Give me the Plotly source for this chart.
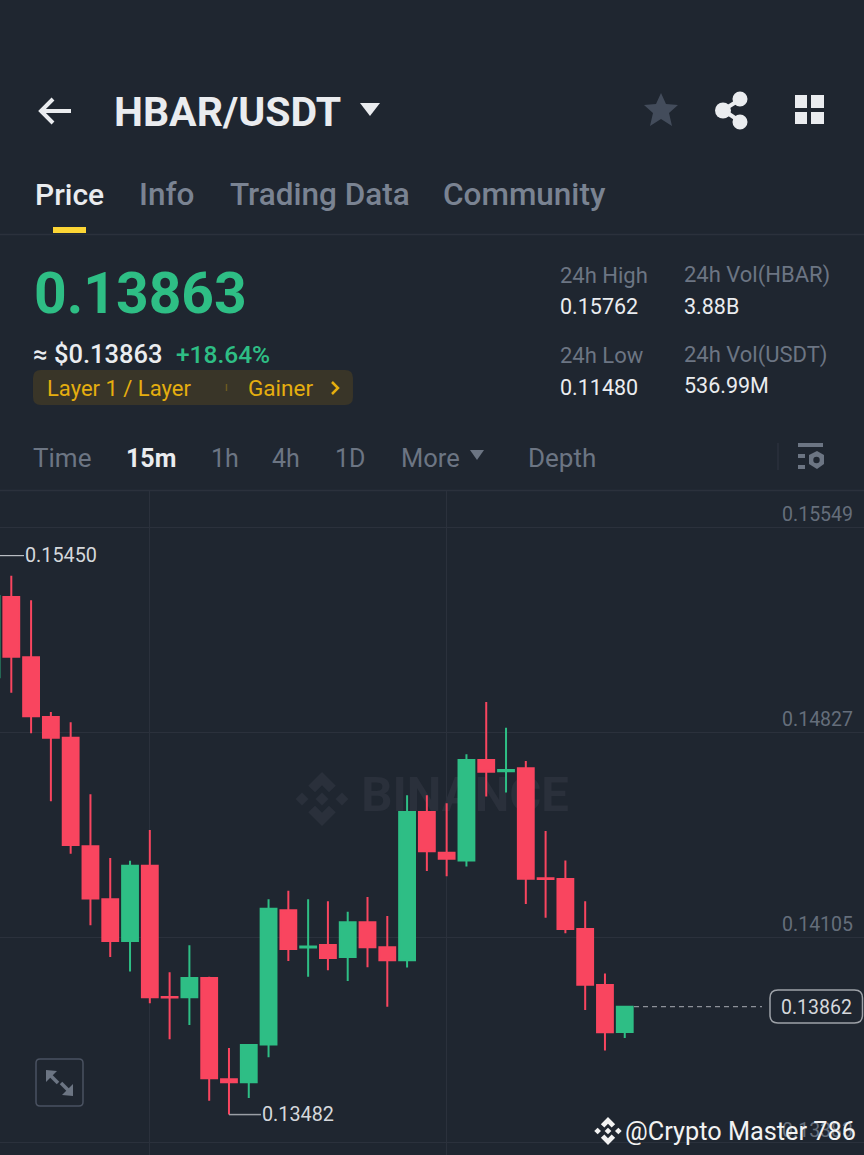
import plotly.graph_objects as go

# ---- data ----
opens  = [.15022,.15304,.15092,.14882,.14809,.14427,.14240,.14093,.14358,.13896,.13895,.13963,.13606,.13596,.13729,.14201,.14070,.14079,.14037,.14159,.14071,.14025,.14547,.14404,.14377,.14730,.14691,.14701,.14314,.14311,.14135,.13938,.13773]
highs  = [.15329,.15379,.15293,.14899,.14863,.14610,.14385,.14376,.14484,.13983,.14078,.13967,.13716,.13730,.14240,.14270,.14240,.14233,.14196,.14248,.14181,.14606,.14606,.14578,.14751,.14935,.14844,.14727,.14480,.14377,.14233,.13979,.13864]
lows   = [.15012,.14967,.14825,.14585,.14400,.14149,.14037,.13986,.13874,.13747,.13797,.13531,.13482,.13540,.13684,.14023,.13967,.13990,.13952,.14001,.13862,.14000,.14340,.14321,.14355,.14602,.14616,.14223,.14175,.14120,.13850,.13708,.13752]
closes = [.15308,.15094,.14884,.14809,.14431,.14243,.14093,.14358,.13895,.13894,.13963,.13610,.13596,.13727,.14207,.14065,.14074,.14033,.14159,.14071,.14025,.14547,.14409,.14383,.14730,.14689,.14695,.14312,.14311,.14135,.13939,.13772,.13862]
candle_index = list(range(len(opens)))

price_ticks = [.15549,.14827,.14105,.13383]
price_tick_labels = ["0.15549","0.14827","0.14105","0.13383"]
time_grid_index = [8,23]
period_high, period_low, last_price = .15450, .13482, .13862

BG="#1F2630"; GRID="#2B313C"; RED="#F9455F"; GREEN="#2EBE85"; GREY="#7A8392"; DIM="#6C7583"; WHITE="#EAECEF"
FONT="Roboto"
W,H=864,1155

# axis mapping of the pane
X_RANGE=[0.429,44.09]
Y_RANGE=[.133397,.15681]
PANE_TOP=490

def px(x): return x/W
def py(y): return 1-y/H
def path(pts, close=True):
    return "M"+" L".join(f"{px(x):.5f},{py(y):.5f}" for x,y in pts)+(" Z" if close else "")
def rrect(x0,y0,x1,y1,r):
    P=lambda a,b:f"{px(a):.5f},{py(b):.5f}"
    return (f"M{P(x0+r,y0)} L{P(x1-r,y0)} Q{P(x1,y0)} {P(x1,y0+r)} L{P(x1,y1-r)} Q{P(x1,y1)} {P(x1-r,y1)} "
            f"L{P(x0+r,y1)} Q{P(x0,y1)} {P(x0,y1-r)} L{P(x0,y0+r)} Q{P(x0,y0)} {P(x0+r,y0)} Z")

shapes=[]
def S(d,fill=None,line=None,lw=0,layer="above"):
    shapes.append(dict(type="path",path=d,xref="paper",yref="paper",layer=layer,
        fillcolor=fill if fill else "rgba(0,0,0,0)",line=dict(color=line if line else "rgba(0,0,0,0)",width=lw)))
def L(x0,y0,x1,y1,c,w=1.5,layer="above"):
    S(path([(x0,y0),(x1,y1)],False),None,c,w,layer)
def circle(cx,cy,r,fill):
    shapes.append(dict(type="circle",xref="paper",yref="paper",x0=px(cx-r),x1=px(cx+r),y0=py(cy+r),y1=py(cy-r),
                       fillcolor=fill,line=dict(width=0)))
def logo(cx,cy,r,c,layer):
    def pts(lst): return [(cx+a*r,cy+b*r) for a,b in lst]
    d=.24
    for ox,oy in [(0,0),(-.74,0),(.74,0)]:
        S(path(pts([(ox,oy-d),(ox+d,oy),(ox,oy+d),(ox-d,oy)])),c,None,0,layer)
    top=[(0,-1),(.51,-.49),(.26,-.25),(0,-.51),(-.26,-.25),(-.51,-.49)]
    S(path(pts(top)),c,None,0,layer)
    S(path(pts([(a,-b) for a,b in top])),c,None,0,layer)

anns=[]
def T(x,y,text,size,color,anchor="left",weight=400,font=FONT):
    anns.append(dict(x=px(x),y=py(y),xref="paper",yref="paper",text=text,showarrow=False,xanchor=anchor,yanchor="middle",
                     font=dict(family=font,size=size,color=color,weight=weight),borderpad=0,borderwidth=0))

# header
L(41,111,71,111,WHITE,4)
S(path([(53,99),(41,111),(53,123)],False),None,WHITE,4)
T(114,112,"HBAR/USDT",41,WHITE,weight=700)
S(path([(360,103),(380,103),(370,116)]),WHITE)
S(path([(661,93),(666,104),(678,105),(669,113),(672,126),(661,119),(650,126),(653,113),(644,105),(656,104)]),"#434C5B")
L(741,99,723,110,WHITE,4); L(741,122,723,110,WHITE,4)
circle(740,99,7.5,WHITE); circle(740,122,7.5,WHITE); circle(723,110.5,8,WHITE)
for a,b in [(795,807),(811,824)]:
    for c,d in [(95,108),(112,124)]:
        S(path([(a,c),(b,c),(b,d),(a,d)]),WHITE)
# tabs
T(35,194,"Price",30,WHITE,weight=500)
T(139,194,"Info",31.5,GREY,weight=500)
T(230,194,"Trading Data",31.5,GREY,weight=500)
T(443,194,"Community",31.5,GREY,weight=500)
S(path([(53,227),(86,227),(86,233),(53,233)]),"#FCD535")
L(0,234.5,864,234.5,GRID,1.5)
# price block
T(34,294,"0.13863",57,GREEN,weight=700)
T(33,354,"≈ $0.13863",25.5,WHITE,weight=500)
T(176,354,"+18.64%",24.5,GREEN,weight=500)
S(rrect(33,370,353,405,8),"#393528")
T(47,388,"Layer 1 / Layer",22,"#E5AE0F")
L(226.5,384,226.5,391,"#6B5A20",1.5)
T(248,388,"Gainer",22.5,"#E5AE0F")
S(path([(332,382),(338,388),(332,394)],False),None,"#E5AE0F",2.5)
T(560,276,"24h High",22,DIM); T(560,306,"0.15762",21.5,WHITE)
T(684,275,"24h Vol(HBAR)",22,DIM); T(684,306,"3.88B",21.5,WHITE)
T(560,356,"24h Low",22,DIM); T(560,387,"0.11480",21.5,WHITE)
T(684,355,"24h Vol(USDT)",22,DIM); T(684,386,"536.99M",21.5,WHITE)
# interval row
T(33,458,"Time",26,DIM); T(126,458,"15m",25,WHITE,weight=700)
T(211,458,"1h",25,DIM); T(272,458,"4h",25,DIM); T(335,458,"1D",25,DIM)
T(401,458,"More",25.5,DIM); T(528,458,"Depth",26,DIM)
S(path([(470,450),(484,450),(477,460)]),DIM)
L(778,443,778,470,GRID,1.5)
S(path([(798,443),(823,443),(823,447),(798,447)]),DIM)
S(path([(798,454),(805,454),(805,458),(798,458)]),DIM)
S(path([(798,465),(805,465),(805,469),(798,469)]),DIM)
S(path([(817,451),(824,455),(824,464),(817,469),(809,464),(809,455)]),DIM)
circle(816.5,460,3.2,BG)
L(0,490.5,864,490.5,GRID,1.5)
# watermark logo, behind the candles
logo(322,799,27,"#2A303B","below")
# expand button
S(rrect(36,1059,83,1106,4),None,"#4A5261",1.5)
S(path([(46,1070),(57,1071),(46,1082)]),DIM); L(50,1075,58,1083,DIM,3.5)
S(path([(73,1096),(62,1095),(73,1084)]),DIM); L(69,1091,61,1083,DIM,3.5)
# leader lines and last price
shapes.append(dict(type="line",xref="paper",yref="y",x0=0,x1=px(24),y0=period_high,y1=period_high,line=dict(color="#B8BCC2",width=1.2)))
T(25,555,"0.15450",19.8,"#D5D8DC")
shapes.append(dict(type="line",xref="paper",yref="y",x0=px(229),x1=px(261),y0=period_low,y1=period_low,line=dict(color="#9A9EA5",width=1.5)))
T(262,1114.5,"0.13482",19.8,"#D5D8DC")
shapes.append(dict(type="line",xref="paper",yref="y",x0=px(634),x1=px(762),y0=last_price,y1=last_price,
                   line=dict(color="#8D9199",width=1.3,dash="5px,4px")))
S(rrect(770,990,862.5,1023,8),BG,"#9EA2A8",1.5)
T(816.5,1007,"0.13862",19.5,"#D5D8DC","center")
# bottom credit
logo(608,1131,14,"#F2F2F2","above")
T(625,1131,"@Crypto Master 786",25.3,"#F2F2F2")

watermark=go.Scatter(x=[23.93],y=[.14593],mode="text",text=["BINANCE"],textposition="middle center",
    textfont=dict(family=FONT,size=49,color="#2A303B",weight=700),hoverinfo="skip",showlegend=False,xaxis="x",yaxis="y")

candles=go.Candlestick(x=candle_index,open=opens,high=highs,low=lows,close=closes,xaxis="x2",yaxis="y2",
    increasing=dict(line=dict(color=GREEN,width=2),fillcolor=GREEN),
    decreasing=dict(line=dict(color=RED,width=2),fillcolor=RED),
    whiskerwidth=0,hoverinfo="skip",showlegend=False)

fig=go.Figure([watermark,candles])
pane_dom=[0,1-PANE_TOP/H]
fig.update_layout(width=W,height=H,margin=dict(l=0,r=0,t=0,b=0),paper_bgcolor=BG,plot_bgcolor=BG,
    showlegend=False,shapes=shapes,annotations=anns,boxgap=0.2,boxgroupgap=0,hovermode=False,
    xaxis=dict(domain=[0,1],range=X_RANGE,tickmode="array",tickvals=time_grid_index,showticklabels=False,ticks="",
               showgrid=True,gridcolor=GRID,gridwidth=1.3,zeroline=False,showline=False,fixedrange=True,rangeslider=dict(visible=False)),
    yaxis=dict(domain=pane_dom,range=Y_RANGE,tickmode="array",tickvals=price_ticks,ticktext=price_tick_labels,side="right",
               ticklabelposition="inside",ticks="",ticklabelstandoff=8,ticklabelshift=-13,ticklabeloverflow="allow",
               tickfont=dict(family=FONT,size=19.5,color="#656E7B"),showgrid=True,gridcolor=GRID,gridwidth=1.3,
               zeroline=False,showline=False,fixedrange=True),
    xaxis2=dict(overlaying="x",range=X_RANGE,visible=False,fixedrange=True,rangeslider=dict(visible=False)),
    yaxis2=dict(overlaying="y",range=Y_RANGE,visible=False,fixedrange=True))

fig.write_html("out.html",config=dict(displayModeBar=False),
    post_script="var s=document.documentElement.style,b=document.body.style;b.margin='0';b.height='1155px';b.overflow='hidden';s.height='1155px';s.overflow='hidden';s.background='%s';"%BG)
